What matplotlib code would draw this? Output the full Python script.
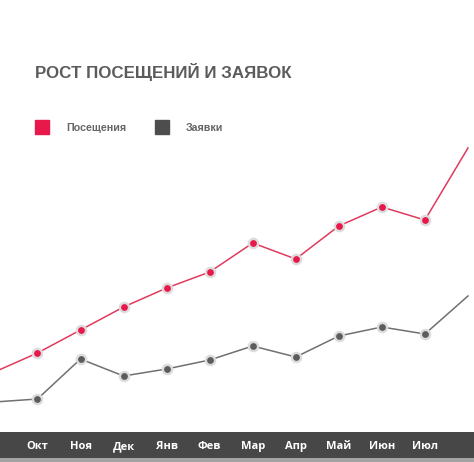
import matplotlib.pyplot as plt
import matplotlib.patches as patches
import matplotlib.transforms as mtransforms
from matplotlib.lines import Line2D
import numpy as np

# data (one hidden point on each side so the lines run off the edges)
months = ["Окт", "Ноя", "Дек", "Янв", "Фев", "Мар", "Апр", "Май", "Июн", "Июл"]
visits = [60, 79, 102, 125, 144, 160, 189, 173, 206, 225, 212, 284]
requests = [30, 33, 73, 56, 63, 72, 86, 75, 96, 105, 98, 136]

RED = "#e8194a"
RED_LINE = "#e03a5e"
GRAY = "#5c5c5c"
GRAY_LINE = "#707070"
HALO = "#dcdcdc"

W, H = 474, 462
fig = plt.figure(figsize=(W / 100, H / 100), dpi=100)

# dark band with the month labels at the bottom
band_bot, band_top = 458, 432
fig.patches.append(patches.Rectangle((0, 0), 1, (H - band_bot) / H, transform=fig.transFigure,
                                     facecolor="#a3a3a3", edgecolor="none", zorder=-2))
fig.patches.append(patches.Rectangle((0, (H - band_bot) / H), 1, (band_bot - band_top) / H,
                                     transform=fig.transFigure, facecolor="#474747",
                                     edgecolor="none", zorder=-2))

ax = fig.add_axes([0, (H - band_top) / H, 1, band_top / H])
ax.set_facecolor("none")
for s in ax.spines.values():
    s.set_visible(False)

x = np.arange(-1, len(months) + 1)
ax.set_xlim(-0.87, 10.14)
ax.set_ylim(0, band_top)

for vals, lc, mc in [(visits, RED_LINE, RED), (requests, GRAY_LINE, GRAY)]:
    ax.plot(x, vals, color=lc, lw=1.1, zorder=2,
            marker="o", markevery=slice(1, -1), ms=6.6, mfc=mc, mec=HALO, mew=1.7)

ax.set_xticks([])
ax.set_yticks([])

# month labels inside the band (shared baseline)
trans = mtransforms.blended_transform_factory(ax.transData, fig.transFigure)
ybase = 1 - 449 / H
for i, m in enumerate(months):
    ax.text(i, ybase, m, transform=trans, ha="center", va="baseline",
            fontsize=8, fontweight="bold", color="white", family="Open Sans", clip_on=False)

fig.text(35 / W, 1 - 72 / H, "РОСТ ПОСЕЩЕНИЙ И ЗАЯВОК", ha="left", va="center",
         fontsize=12.2, fontweight="bold", color="#5b5b5b", family="Liberation Sans")

handles = [Line2D([], [], ls="none", marker="s", ms=10, color=RED),
           Line2D([], [], ls="none", marker="s", ms=10, color="#4d4d4d")]
leg = fig.legend(handles, ["Посещения", "Заявки"], loc="center left",
                 bbox_to_anchor=(35 / W, 1 - 128 / H), ncol=2, frameon=False,
                 borderpad=0, borderaxespad=0, handlelength=1.3, handletextpad=1.6,
                 columnspacing=2.7, prop={"family": "Liberation Sans", "weight": "bold", "size": 7.7})
for t in leg.get_texts():
    t.set_color("#666666")

fig.savefig("out.png", dpi=100, facecolor="white")
